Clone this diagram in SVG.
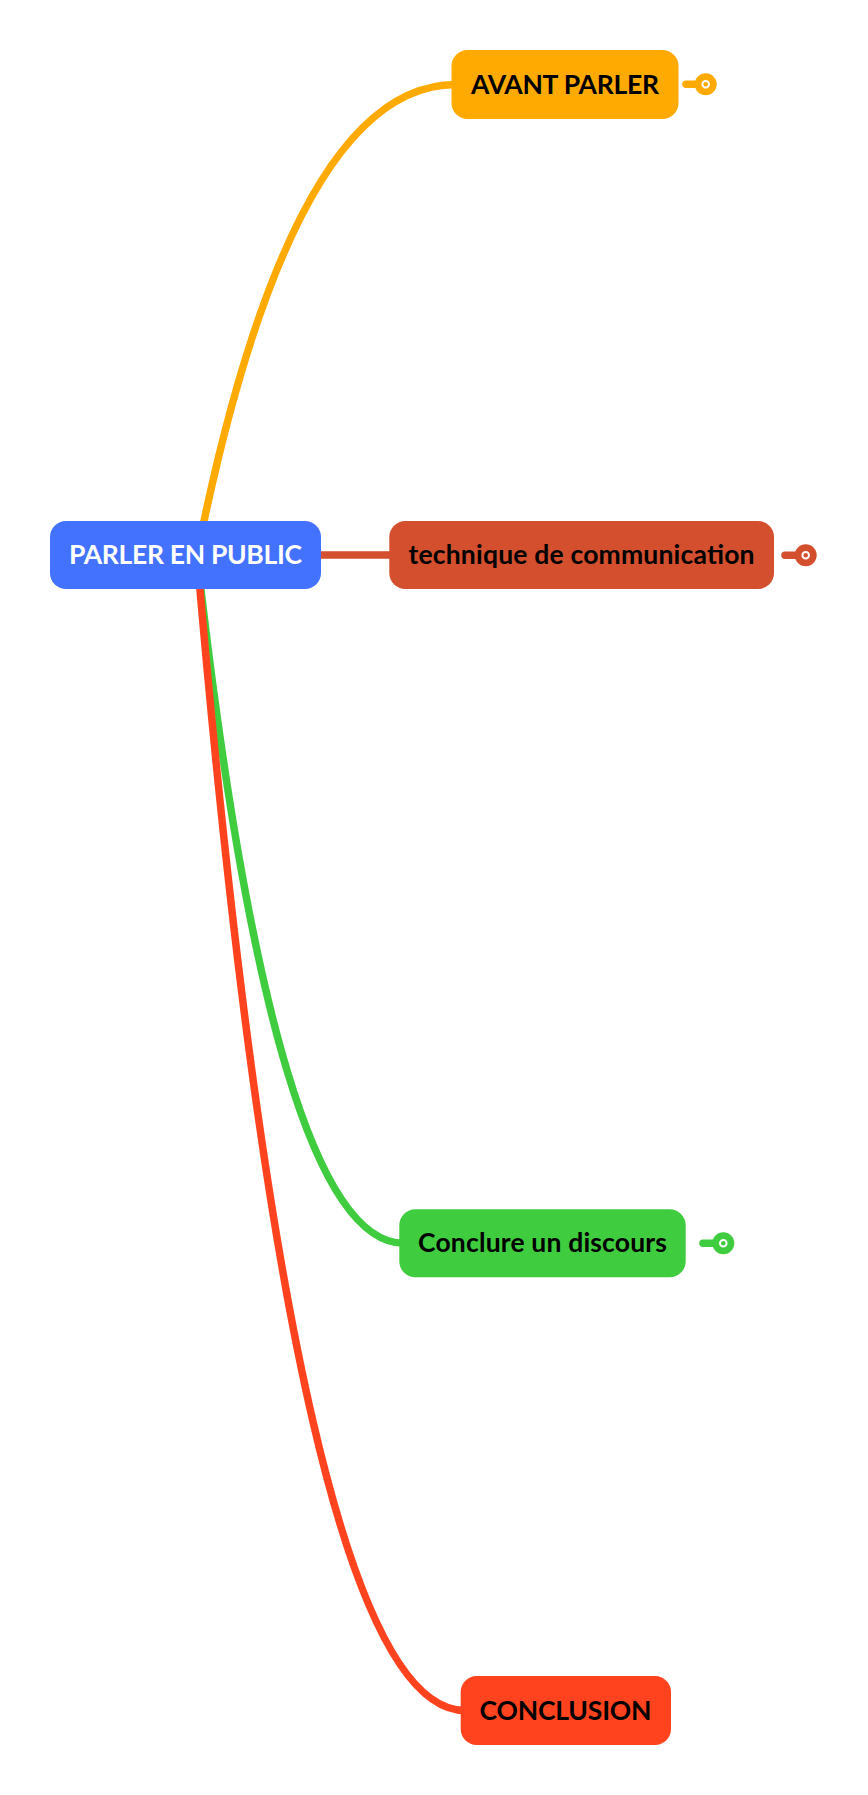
<svg xmlns="http://www.w3.org/2000/svg" width="868" height="1795" viewBox="0 0 868 1795">
<style>
.node text{font-family:Lato,"Liberation Sans",sans-serif;font-weight:700;font-size:26.5px;text-anchor:middle}
.dark{fill:#000}
.light{fill:#fff}
.conn path{fill:none;stroke-width:7.5;stroke-linecap:round}
.ring{fill:none;stroke:#fff;stroke-width:2}
</style>
<rect width="868" height="1795" fill="#fff"/>
<g id="connectors" class="conn">
  <path d="M197 555 Q291 84.5 456 84.5" stroke="#FFAA00"/>
  <path d="M300 555 L392 555" stroke="#D34F2E"/>
  <path d="M197 555 Q274 1243.3 404 1243.3" stroke="#3FCC3F"/>
  <path d="M197 555 Q295 1710.5 465 1710.5" stroke="#FF431E"/>
  <path d="M686 84.3 L705.7 84.3" stroke="#FFAA00"/>
  <path d="M785 555.3 L805.7 555.3" stroke="#D34F2E"/>
  <path d="M703 1243.3 L723.3 1243.3" stroke="#3FCC3F"/>
</g>
<g id="root" class="node">
  <rect x="50" y="521" width="271" height="68" rx="16" fill="#4272FF"/>
  <text x="185.5" y="564" class="light" textLength="233">PARLER EN PUBLIC</text>
</g>
<g id="avant" class="node">
  <rect x="451.5" y="50" width="227" height="69" rx="16" fill="#FFAA00"/>
  <text x="565" y="93.5" class="dark" textLength="188">AVANT PARLER</text>
  <circle cx="705.7" cy="84.3" r="11" fill="#FFAA00"/>
  <circle cx="705.7" cy="84.3" r="3.3" class="ring"/>
</g>
<g id="technique" class="node">
  <rect x="389.3" y="521" width="384.7" height="68" rx="16" fill="#D34F2E"/>
  <text x="581.5" y="564" class="dark" textLength="346">technique de communication</text>
  <circle cx="805.7" cy="555.3" r="11" fill="#D34F2E"/>
  <circle cx="805.7" cy="555.3" r="3.3" class="ring"/>
</g>
<g id="conclure" class="node">
  <rect x="399.3" y="1209.3" width="286.4" height="68" rx="16" fill="#3FCC3F"/>
  <text x="542.5" y="1252" class="dark" textLength="249">Conclure un discours</text>
  <circle cx="723.3" cy="1243.3" r="11" fill="#3FCC3F"/>
  <circle cx="723.3" cy="1243.3" r="3.3" class="ring"/>
</g>
<g id="conclusion" class="node">
  <rect x="460.7" y="1676" width="210.3" height="69" rx="16" fill="#FF431E"/>
  <text x="565.5" y="1719.5" class="dark" textLength="172">CONCLUSION</text>
</g>
</svg>
